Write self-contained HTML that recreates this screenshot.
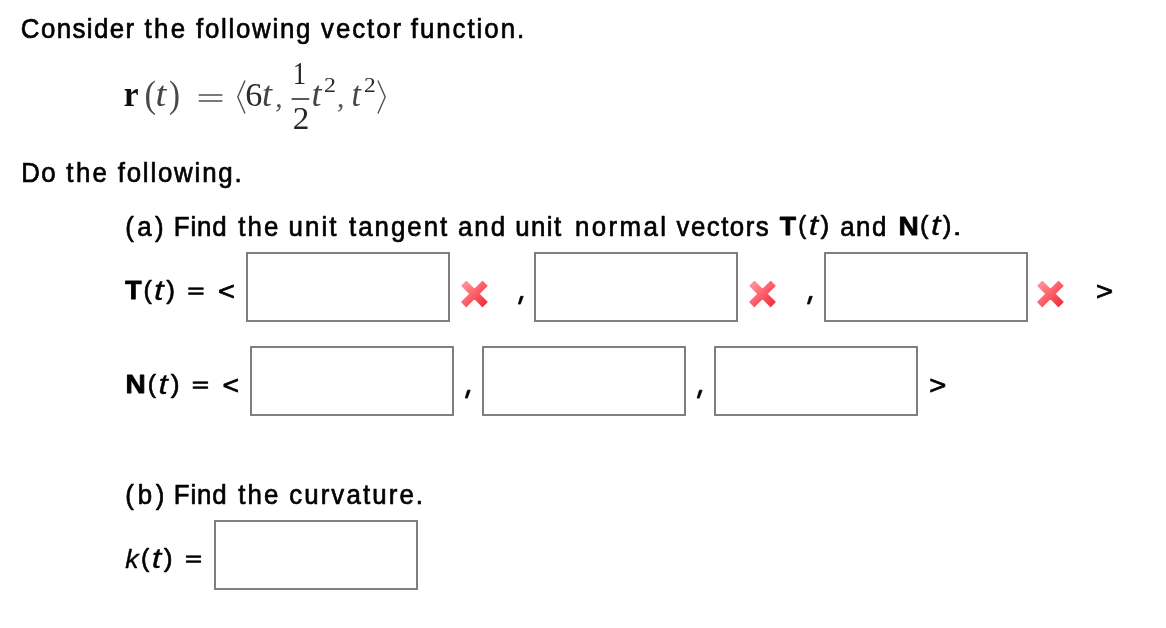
<!DOCTYPE html>
<html><head><meta charset="utf-8"><title>Vector function</title>
<style>
html,body{margin:0;padding:0;background:#fff;}
body{width:1166px;height:628px;overflow:hidden;}
svg{display:block;font-family:"Liberation Sans",sans-serif;}
</style></head><body>
<svg width="1166" height="628" viewBox="0 0 1166 628">
<defs>
<linearGradient id="xg" x1="0" y1="0" x2="1" y2="1">
<stop offset="0.1" stop-color="#ff929a"/><stop offset="0.5" stop-color="#fc606a"/><stop offset="0.9" stop-color="#f0363a"/>
</linearGradient>
<filter id="xb" x="-20%" y="-20%" width="140%" height="140%"><feGaussianBlur stdDeviation="0.7"/></filter>
<filter id="fb" x="-5%" y="-20%" width="110%" height="140%"><feGaussianBlur stdDeviation="0.65"/></filter>
</defs>
<rect width="1166" height="628" fill="#fff"/>
<!-- input boxes -->
<g fill="#fff" stroke="#7f7f7f" stroke-width="2">
<rect x="247" y="253" width="202" height="68"/>
<rect x="535" y="253" width="202" height="68"/>
<rect x="825" y="253" width="202" height="68"/>
<rect x="251" y="347" width="202" height="68"/>
<rect x="483" y="347" width="202" height="68"/>
<rect x="715" y="347" width="202" height="68"/>
<rect x="215" y="521" width="202" height="68"/>
</g>
<!-- body text -->
<g fill="#000" stroke="#000" stroke-width="0.7" stroke-linejoin="round" opacity="0.999">
<text transform="matrix(0.94 0 0 1 20.86 37.90)" font-size="27.5" letter-spacing="1.490">Consider</text>
<text transform="matrix(0.94 0 0 1 144.54 37.90)" font-size="27.5" letter-spacing="2.463">the</text>
<text transform="matrix(0.94 0 0 1 196.10 37.90)" font-size="27.5" letter-spacing="1.832">following</text>
<text transform="matrix(0.94 0 0 1 321.03 37.90)" font-size="27.5" letter-spacing="2.074">vector</text>
<text transform="matrix(0.94 0 0 1 410.80 37.90)" font-size="27.5" letter-spacing="2.088">function.</text>
<text transform="matrix(0.94 0 0 1 21.23 181.80)" font-size="27.5" letter-spacing="1.548">Do</text>
<text transform="matrix(0.94 0 0 1 66.34 181.80)" font-size="27.5" letter-spacing="2.517">the</text>
<text transform="matrix(0.94 0 0 1 117.70 181.80)" font-size="27.5" letter-spacing="1.921">following.</text>
<text transform="matrix(0.94 0 0 1 125.26 235.50)" font-size="27.5" letter-spacing="3.630">(a)</text>
<text transform="matrix(0.94 0 0 1 173.73 235.50)" font-size="27.5" letter-spacing="0.968">Find</text>
<text transform="matrix(0.94 0 0 1 238.24 235.50)" font-size="27.5" letter-spacing="2.251">the</text>
<text transform="matrix(0.94 0 0 1 288.55 235.50)" font-size="27.5" letter-spacing="2.208">unit</text>
<text transform="matrix(0.94 0 0 1 349.04 235.50)" font-size="27.5" letter-spacing="2.117">tangent</text>
<text transform="matrix(0.94 0 0 1 457.93 235.50)" font-size="27.5" letter-spacing="2.126">and</text>
<text transform="matrix(0.94 0 0 1 515.35 235.50)" font-size="27.5" letter-spacing="1.463">unit</text>
<text transform="matrix(0.94 0 0 1 574.95 235.50)" font-size="27.5" letter-spacing="2.563">normal</text>
<text transform="matrix(0.94 0 0 1 676.53 235.50)" font-size="27.5" letter-spacing="1.569">vectors</text>
<text transform="matrix(0.94 0 0 1 840.23 235.50)" font-size="27.5" letter-spacing="1.594">and</text>
<text transform="matrix(0.94 0 0 1 125.26 503.50)" font-size="27.5" letter-spacing="4.055">(b)</text>
<text transform="matrix(0.94 0 0 1 173.73 503.50)" font-size="27.5" letter-spacing="0.968">Find</text>
<text transform="matrix(0.94 0 0 1 238.34 503.50)" font-size="27.5" letter-spacing="2.197">the</text>
<text transform="matrix(0.94 0 0 1 289.13 503.50)" font-size="27.5" letter-spacing="2.252">curvature.</text>
<text transform="matrix(0.9699 0 0 0.9373 779.85 234.75)" font-size="27.5" font-weight="bold" stroke-width="0.9">T</text>
<text transform="matrix(0.8752 0 0 0.9444 798.37 234.43)" font-size="27.5">(</text>
<text transform="matrix(1.2239 0 0 1.0083 808.75 235.12)" font-size="27.5" font-style="italic" stroke-width="0.35">t</text>
<text transform="matrix(0.9517 0 0 0.9444 820.57 234.43)" font-size="27.5">)</text>
<text transform="matrix(1.0193 0 0 0.9373 898.40 234.75)" font-size="27.5" font-weight="bold" stroke-width="0.9">N</text>
<text transform="matrix(0.9299 0 0 0.9444 919.98 234.43)" font-size="27.5">(</text>
<text transform="matrix(1.2239 0 0 1.0083 931.05 235.12)" font-size="27.5" font-style="italic" stroke-width="0.35">t</text>
<text transform="matrix(0.9517 0 0 0.9444 942.87 234.43)" font-size="27.5">)</text>
<text transform="matrix(1.1429 0 0 0.7830 952.69 234.85)" font-size="27.5">.</text>
<text transform="matrix(0.9699 0 0 0.9373 125.35 299.30)" font-size="27.5" font-weight="bold" stroke-width="0.9">T</text>
<text transform="matrix(0.9162 0 0 0.9444 143.50 298.98)" font-size="27.5">(</text>
<text transform="matrix(1.2513 0 0 1.0083 154.11 299.67)" font-size="27.5" font-style="italic" stroke-width="0.35">t</text>
<text transform="matrix(0.9517 0 0 0.9444 166.27 298.98)" font-size="27.5">)</text>
<text transform="matrix(1.0841 0 0 0.7549 187.23 297.94)" font-size="27.5" stroke-width="0.9">=</text>
<text transform="matrix(1.0516 0 0 0.9686 218.05 300.10)" font-size="27.5" stroke-width="0.8">&lt;</text>
<text transform="matrix(1.0193 0 0 0.9373 125.60 393.30)" font-size="27.5" font-weight="bold" stroke-width="0.9">N</text>
<text transform="matrix(0.9026 0 0 0.9444 147.73 392.98)" font-size="27.5">(</text>
<text transform="matrix(1.2103 0 0 1.0083 158.56 393.67)" font-size="27.5" font-style="italic" stroke-width="0.35">t</text>
<text transform="matrix(0.9655 0 0 0.9444 170.67 392.98)" font-size="27.5">)</text>
<text transform="matrix(1.0841 0 0 0.7549 191.63 391.94)" font-size="27.5" stroke-width="0.9">=</text>
<text transform="matrix(1.0291 0 0 0.9686 222.48 394.10)" font-size="27.5" stroke-width="0.8">&lt;</text>
<text transform="matrix(0.9697 0 0 0.9680 125.18 567.60)" font-size="27.5" font-style="italic" stroke-width="0.4">k</text>
<text transform="matrix(0.9162 0 0 0.9444 140.90 566.98)" font-size="27.5">(</text>
<text transform="matrix(1.2376 0 0 1.0083 151.63 567.67)" font-size="27.5" font-style="italic" stroke-width="0.35">t</text>
<text transform="matrix(0.9655 0 0 0.9444 163.67 566.98)" font-size="27.5">)</text>
<text transform="matrix(1.0617 0 0 0.7549 184.96 565.94)" font-size="27.5" stroke-width="0.9">=</text>
<text transform="matrix(1.0667 0 0 0.9686 1096.03 300.10)" font-size="27.5" stroke-width="0.8">&gt;</text>
<text transform="matrix(1.0592 0 0 0.9686 929.14 394.10)" font-size="27.5" stroke-width="0.8">&gt;</text>
<polygon points="520.55,296.30 523.30,296.30 520.40,304.10 518.30,304.10"/>
<polygon points="809.59,296.30 812.40,296.30 809.44,304.10 807.30,304.10"/>
<polygon points="467.50,390.20 470.30,390.20 467.34,398.10 465.20,398.10"/>
<polygon points="699.39,390.20 702.20,390.20 699.24,398.10 697.10,398.10"/>
</g>
<!-- wrong-answer marks -->
<g transform="translate(474.4 293.9)" filter="url(#xb)"><path d="M-8.1 -12.6L0 -4.5L8.1 -12.6L12.6 -8.1L4.5 0L12.6 8.1L8.1 12.6L0 4.5L-8.1 12.6L-12.6 8.1L-4.5 0L-12.6 -8.1Z" fill="url(#xg)" stroke="url(#xg)" stroke-width="1.2" stroke-linejoin="round"/></g>
<g transform="translate(762.5 293.9)" filter="url(#xb)"><path d="M-8.1 -12.6L0 -4.5L8.1 -12.6L12.6 -8.1L4.5 0L12.6 8.1L8.1 12.6L0 4.5L-8.1 12.6L-12.6 8.1L-4.5 0L-12.6 -8.1Z" fill="url(#xg)" stroke="url(#xg)" stroke-width="1.2" stroke-linejoin="round"/></g>
<g transform="translate(1050.4 293.9)" filter="url(#xb)"><path d="M-8.1 -12.6L0 -4.5L8.1 -12.6L12.6 -8.1L4.5 0L12.6 8.1L8.1 12.6L0 4.5L-8.1 12.6L-12.6 8.1L-4.5 0L-12.6 -8.1Z" fill="url(#xg)" stroke="url(#xg)" stroke-width="1.2" stroke-linejoin="round"/></g>
<!-- formula -->
<g filter="url(#fb)" fill="#1e1e1e" stroke="none">
<text transform="matrix(0.9263 0 0 0.9729 123.83 105.90)" font-size="36" font-weight="bold" font-family="Liberation Serif, serif" fill="#0c0c0c" stroke-width="0">r</text>
<text transform="matrix(0.9622 0 0 1.0463 144.50 106.66)" font-size="36" font-family="Liberation Serif, serif" fill="#4a4a4a" stroke-width="0">(</text>
<text transform="matrix(1.0814 0 0 1.0230 155.44 106.22)" font-size="36" font-style="italic" font-family="Liberation Serif, serif" fill="#444" stroke-width="0">t</text>
<text transform="matrix(0.9143 0 0 1.0503 169.01 106.69)" font-size="36" font-family="Liberation Serif, serif" fill="#4a4a4a" stroke-width="0">)</text>
<text transform="matrix(0.9496 0 0 0.9385 245.22 106.25)" font-size="36" font-family="Liberation Serif, serif" fill="#2c2c2c" stroke-width="0">6</text>
<text transform="matrix(1.0041 0 0 1.0230 262.07 106.22)" font-size="36" font-style="italic" font-family="Liberation Serif, serif" fill="#444" stroke-width="0">t</text>
<text transform="matrix(0.8186 0 0 0.8432 275.37 107.31)" font-size="36" font-family="Liberation Serif, serif" fill="#555" stroke-width="0">,</text>
<text transform="matrix(0.7446 0 0 0.8505 292.83 83.60)" font-size="36" font-family="Liberation Serif, serif" fill="#262626" stroke-width="0">1</text>
<text transform="matrix(0.9212 0 0 0.8777 292.66 129.20)" font-size="36" font-family="Liberation Serif, serif" fill="#262626" stroke-width="0">2</text>
<text transform="matrix(1.0041 0 0 1.0230 311.47 106.22)" font-size="36" font-style="italic" font-family="Liberation Serif, serif" fill="#444" stroke-width="0">t</text>
<text transform="matrix(0.6649 0 0 0.5963 324.06 91.70)" font-size="36" font-family="Liberation Serif, serif" fill="#262626" stroke-width="0">2</text>
<text transform="matrix(0.8186 0 0 0.8432 336.97 107.31)" font-size="36" font-family="Liberation Serif, serif" fill="#555" stroke-width="0">,</text>
<text transform="matrix(0.9379 0 0 1.0230 351.48 106.22)" font-size="36" font-style="italic" font-family="Liberation Serif, serif" fill="#444" stroke-width="0">t</text>
<text transform="matrix(0.6511 0 0 0.5963 363.88 91.70)" font-size="36" font-family="Liberation Serif, serif" fill="#262626" stroke-width="0">2</text>
<g stroke="#505050"><path d="M198.7 94.9H222.4M198.7 101H222.4" stroke-width="1.5"/>
<path d="M291.6 99H309.2" stroke-width="1.9"/>
<path d="M245 80.5L237.8 97L245 113.5M377.9 80.5L385.2 97L377.9 113.5" stroke-width="1.4" fill="none"/></g>
</g>
</svg>
</body></html>
